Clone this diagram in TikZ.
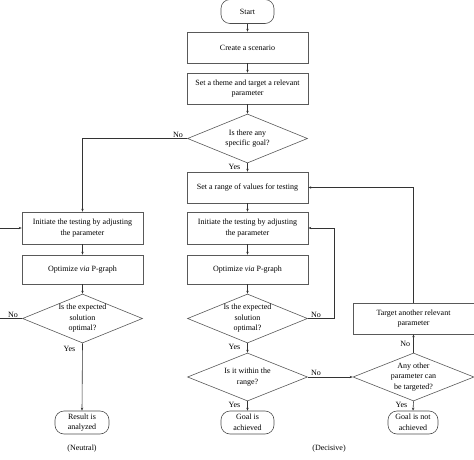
\documentclass[tikz,border=0pt]{standalone}
\usepackage{fontspec}
\setmainfont{Liberation Serif}
\usetikzlibrary{shapes.geometric,arrows.meta}
\begin{document}
\begin{tikzpicture}[x=1pt, y=-1pt, font=\fontsize{8}{10.5}\selectfont,
    box/.style={rectangle, draw=black!65, line width=0.6pt, minimum width=121, minimum height=31, align=center, inner sep=1pt},
    term/.style={rectangle, rounded corners=9pt, draw=black!70, line width=0.6pt, minimum width=53, minimum height=23, align=center, inner sep=1pt},
    decision/.style={diamond, draw=black!65, line width=0.6pt, minimum width=120, minimum height=49, inner sep=0pt},
    flow/.style={draw=black!80, line width=0.6pt, -{Stealth[length=3pt,width=2.4pt]}},
    tag/.style={inner sep=1pt},
    yes/.style={tag, below left, xshift=-6pt}]

    \useasboundingbox (0,0) rectangle (474,460);

    % middle column
    \node[term, minimum height=24] (start) at (247.5,11.5) {Start};
    \node[box] (scen) at (247.5,47.5) {Create a scenario};
    \node[box] (theme) at (247.5,88.5) {Set a theme and target a relevant\\parameter};
    \node[decision, label={[align=center]center:Is there any\\specific goal?}] (goal) at (247.5,138.5) {};
    \node[box] (range) at (247.5,187.5) {Set a range of values for testing};
    \node[box, minimum height=32] (initM) at (247.5,228) {Initiate the testing by adjusting\\the parameter};
    \node[box, minimum height=29] (optM) at (247.5,269.5) {Optimize \textit{via} P-graph};
    \node[decision, label={[align=center]center:Is the expected\\solution\\optimal?}] (optimM) at (247.5,318.5) {};
    \node[decision, minimum height=48, label={[align=center]center:Is it within the\\range?}] (within) at (247.5,377) {};
    \node[term] (achieved) at (247.5,422.5) {Goal is\\achieved};

    % left column
    \node[box, minimum height=32] (initL) at (82.5,228) {Initiate the testing by adjusting\\the parameter};
    \node[box, minimum height=29] (optL) at (82.5,269.5) {Optimize \textit{via} P-graph};
    \node[decision, label={[align=center]center:Is the expected\\solution\\optimal?}] (optimL) at (82.5,318.5) {};
    \node[term, minimum width=54] (resL) at (82,422.5) {Result is\\analyzed};

    % right column
    \node[box] (target) at (413.5,318.5) {Target another relevant\\parameter};
    \node[decision, minimum width=121, minimum height=48, label={[align=center]center:Any other\\parameter can\\be targeted?}] (other) at (413.5,377) {};
    \node[term, minimum width=50] (notach) at (413,422.5) {Goal is not\\achieved};

    \node (neutral) at (82,449) {(Neutral)};
    \node (decisive) at (329,449) {(Decisive)};

    \draw[flow] (start) -- (scen);
    \draw[flow] (scen) -- (theme);
    \draw[flow] (theme) -- (goal);
    \draw[flow] (goal.south) node[yes]{Yes} -- (range.north);
    \draw[flow] (goal.west) node[tag, above left, xshift=-3pt]{No} -| (initL.north);
    \draw[flow] (range) -- (initM);
    \draw[flow] (initM) -- (optM);
    \draw[flow] (optM) -- (optimM.north);
    \draw[flow] (optimM.south) node[yes]{Yes} -- (within.north);
    \draw[flow] (optimM.east) node[tag, above right, xshift=2pt]{No} -- ++(26,0) |- (initM.east);
    \draw[flow] (within.south) node[yes]{Yes} -- (achieved.north);
    \draw[flow] (within.east) node[tag, above right, xshift=2pt]{No} -- (other.west);

    \draw[flow] (initL) -- (optL);
    \draw[flow] (optL) -- (optimL.north);
    \draw[flow] (optimL.south) node[yes, yshift=-2pt]{Yes} -- (resL.north);
    \draw[flow] (optimL.west) node[tag, above left, xshift=-3pt]{No} -- ++(-30,0) |- (initL.west);

    \draw[flow] (other.north) -- node[tag, left, xshift=-2pt]{No} (target.south);
    \draw[flow] (other.south) node[yes, xshift=1pt]{Yes} -- (notach.north);
    \draw[flow] (target.north) |- (range.east);

\end{tikzpicture}
\end{document}
